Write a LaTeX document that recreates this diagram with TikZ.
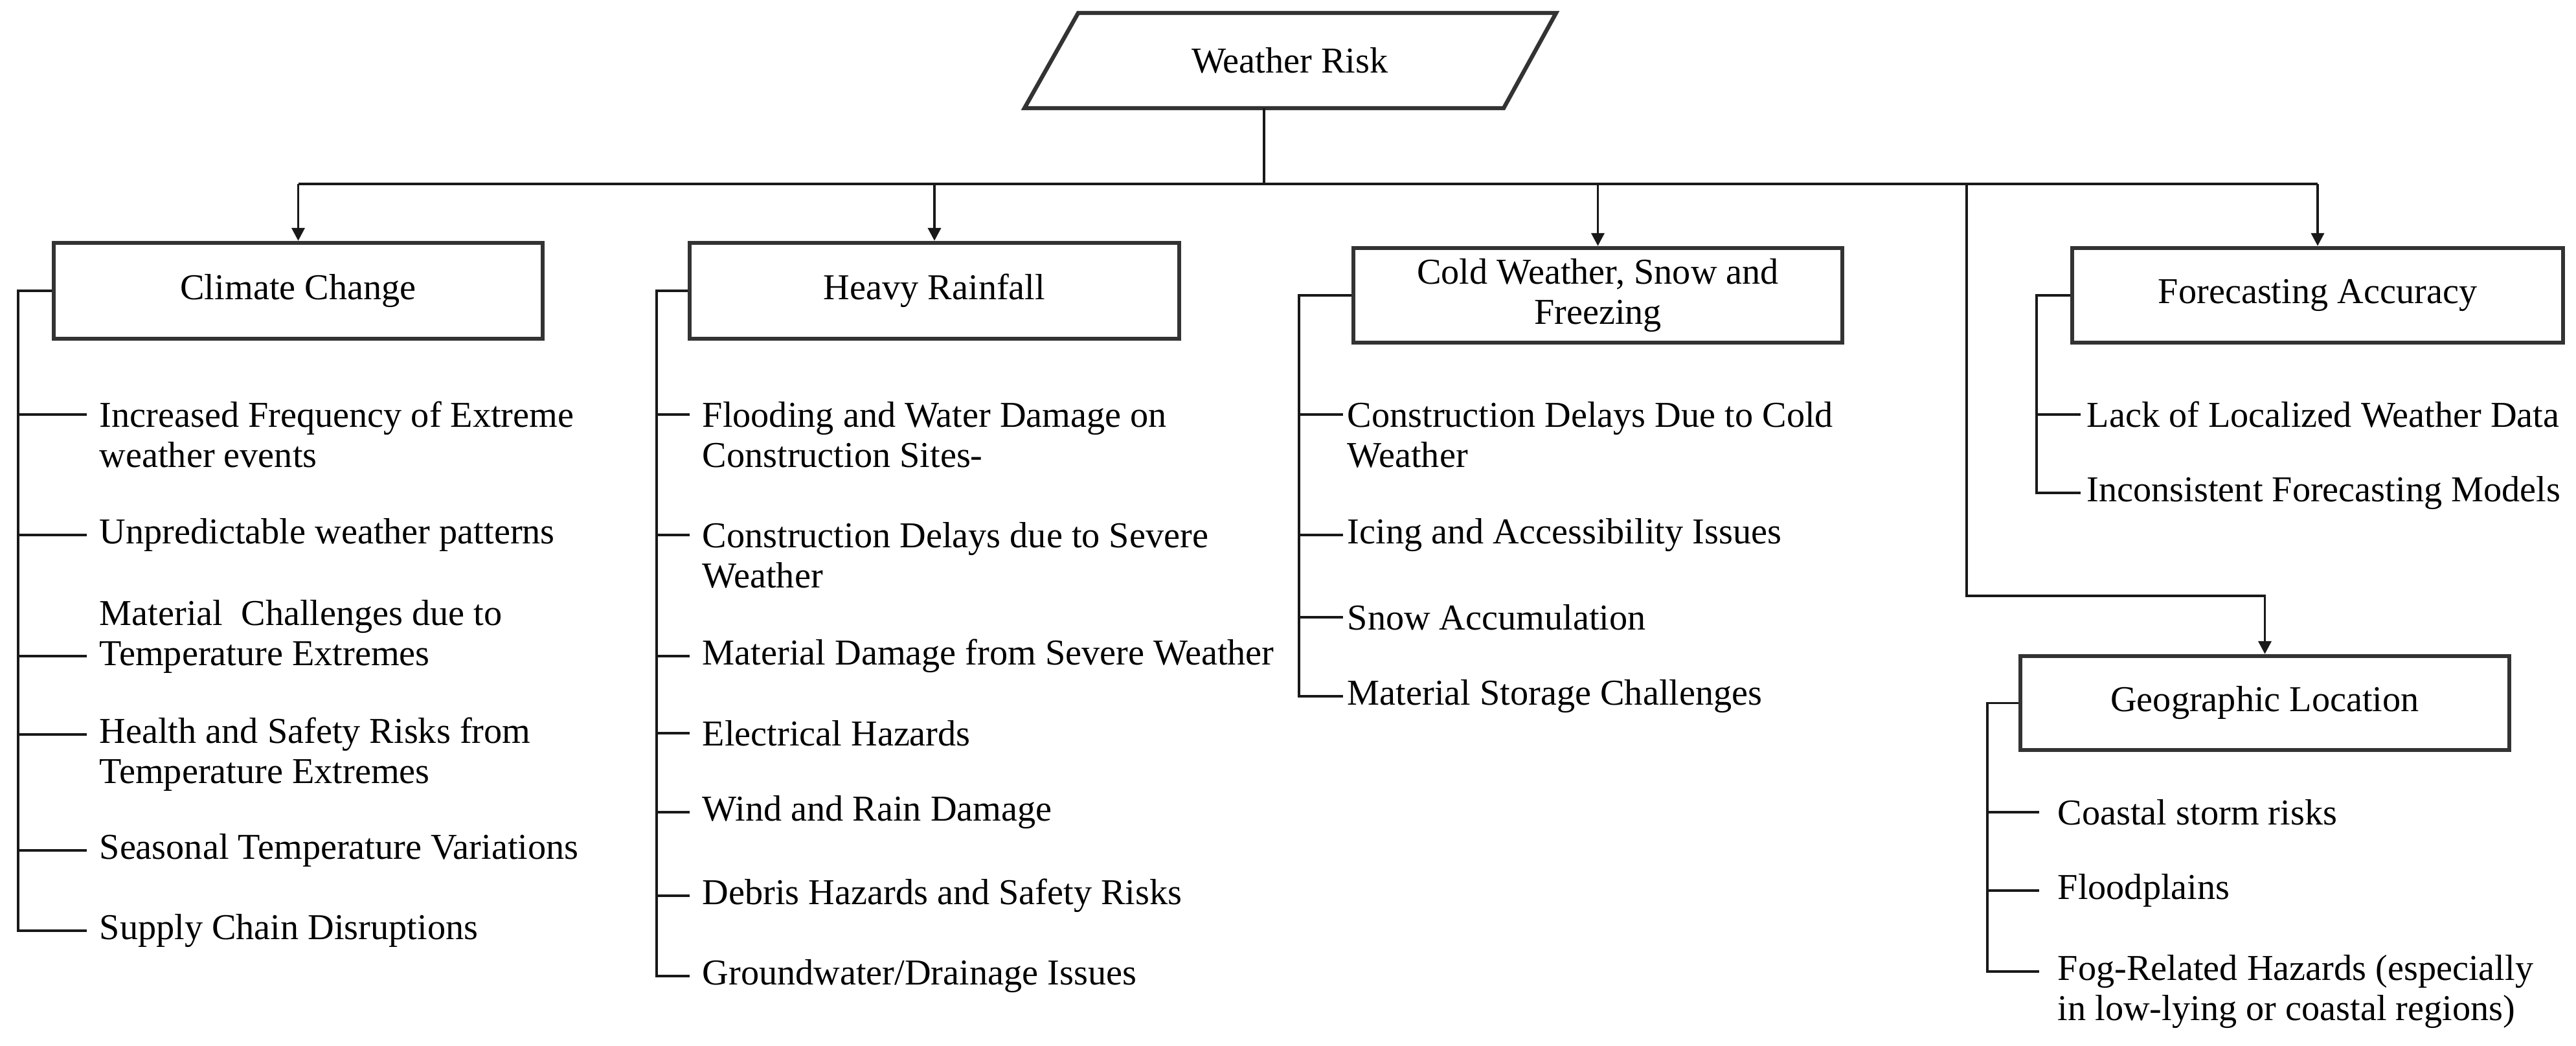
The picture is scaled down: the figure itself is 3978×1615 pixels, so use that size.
\documentclass[tikz,border=0pt]{standalone}
\usepackage{fontspec}
\setmainfont{Liberation Serif}
\usetikzlibrary{arrows.meta}
\begin{document}
\begin{tikzpicture}[x=0.01cm,y=-0.01cm,
  every node/.style={font=\fontsize{16}{17.6}\selectfont, text=black},
  box/.style={draw=black!80, line width=1.8pt, minimum width=7.55cm, minimum height=1.48cm, align=center, inner sep=2pt},
  item/.style={anchor=west, align=left, inner ysep=0pt},
  ln/.style={line width=1.1pt, draw=black!90},
  arr/.style={ln, -{Triangle[length=0.2cm, width=0.2cm]}}]
\useasboundingbox (0,0) rectangle (3978,1615);

% root parallelogram
\draw[draw=black!80, line width=1.8pt] (1665,20) -- (2403,20) -- (2322,167) -- (1582,167) -- cycle;
\node (root) at (1992,93) {Weather Risk};
\coordinate (rootb) at (1952,167);
\coordinate (busc) at (1952,284);

% category boxes
\node[box] (cc) at (460.5,449) {Climate Change};
\node[box] (hr) at (1443,449) {Heavy Rainfall};
\node[box, minimum height=1.46cm] (cw) at (2467.5,456) {Cold Weather, Snow and\\Freezing};
\node[box, minimum width=7.58cm, minimum height=1.46cm] (fa) at (3579,456) {Forecasting Accuracy};
\node[box, minimum height=1.45cm] (gl) at (3497.5,1085.5) {Geographic Location};

% bus and arrows
\draw[ln] (rootb) -- (busc);
\draw[ln] (cc.north |- busc) -- (fa.north |- busc);
\draw[arr] (cc.north |- busc) -- (cc.north);
\draw[arr] (hr.north |- busc) -- (hr.north);
\draw[arr] (cw.north |- busc) -- (cw.north);
\draw[arr] (fa.north |- busc) -- (fa.north);
\coordinate (gbr) at (3037,284);
\draw[arr] (gbr) -- (3037,920) -| (gl.north);

% Climate Change items
\begin{scope}[every node/.append style={inner xsep=0.19cm}]
\node[item] (cc1) at (134,671) {Increased Frequency of Extreme\\weather events};
\node[item] (cc2) at (134,826) {Unpredictable weather patterns};
\node[item] (cc3) at (134,983) {Material\ \ Challenges due to\\Temperature Extremes};
\node[item] (cc4) at (134,1165) {Health and Safety Risks from\\Temperature Extremes};
\node[item] (cc5) at (134,1313) {Seasonal Temperature Variations};
\node[item] (cc6) at (134,1437) {Supply Chain Disruptions};
\end{scope}
\draw[ln] (cc.west) -| (28,1437) -- (cc6.west |- 0,1437);
\draw[ln] (28,640) -- (cc1.west |- 0,640);
\draw[ln] (28,826) -- (cc2.west |- 0,826);
\draw[ln] (28,1013) -- (cc3.west |- 0,1013);
\draw[ln] (28,1134) -- (cc4.west |- 0,1134);
\draw[ln] (28,1313) -- (cc5.west |- 0,1313);

% Heavy Rainfall items
\begin{scope}[every node/.append style={inner xsep=0.19cm}]
\node[item] (hr1) at (1065,671) {Flooding and Water Damage on\\Construction Sites-};
\node[item] (hr2) at (1065,857) {Construction Delays due to Severe\\Weather};
\node[item] (hr3) at (1065,1013) {Material Damage from Severe Weather};
\node[item] (hr4) at (1065,1132) {Electrical Hazards};
\node[item] (hr5) at (1065,1254) {Wind and Rain Damage};
\node[item] (hr6) at (1065,1383) {Debris Hazards and Safety Risks};
\node[item] (hr7) at (1065,1507) {Groundwater/Drainage Issues};
\end{scope}
\draw[ln] (hr.west) -| (1014,1507) -- (hr7.west |- 0,1507);
\draw[ln] (1014,640) -- (hr1.west |- 0,640);
\draw[ln] (1014,826) -- (hr2.west |- 0,826);
\draw[ln] (1014,1013) -- (hr3.west |- 0,1013);
\draw[ln] (1014,1132) -- (hr4.west |- 0,1132);
\draw[ln] (1014,1254) -- (hr5.west |- 0,1254);
\draw[ln] (1014,1383) -- (hr6.west |- 0,1383);

% Cold Weather items
\begin{scope}[every node/.append style={inner xsep=0.06cm}]
\node[item] (cw1) at (2074,671) {Construction Delays Due to Cold\\Weather};
\node[item] (cw2) at (2074,826) {Icing and Accessibility Issues};
\node[item] (cw3) at (2074,953) {Snow Accumulation};
\node[item] (cw4) at (2074,1075) {Material Storage Challenges};
\end{scope}
\draw[ln] (cw.west) -| (2006,1075) -- (cw4.west |- 0,1075);
\draw[ln] (2006,640) -- (cw1.west |- 0,640);
\draw[ln] (2006,826) -- (cw2.west |- 0,826);
\draw[ln] (2006,953) -- (cw3.west |- 0,953);

% Forecasting items
\begin{scope}[every node/.append style={inner xsep=0.09cm}]
\node[item] (fa1) at (3213,640) {Lack of Localized Weather Data};
\node[item] (fa2) at (3213,761) {Inconsistent Forecasting Models};
\end{scope}
\draw[ln] (fa.west) -| (3145,761) -- (fa2.west |- 0,761);
\draw[ln] (3145,640) -- (fa1.west |- 0,640);

% Geographic items
\begin{scope}[every node/.append style={inner xsep=0.28cm}]
\node[item] (gl1) at (3149,1254) {Coastal storm risks};
\node[item] (gl2) at (3149,1375) {Floodplains};
\node[item] (gl3) at (3149,1531) {Fog-Related Hazards (especially\\in low-lying or coastal regions)};
\end{scope}
\draw[ln] (gl.west) -| (3069,1500) -- (gl3.west |- 0,1500);
\draw[ln] (3069,1254) -- (gl1.west |- 0,1254);
\draw[ln] (3069,1375) -- (gl2.west |- 0,1375);
\end{tikzpicture}
\end{document}
